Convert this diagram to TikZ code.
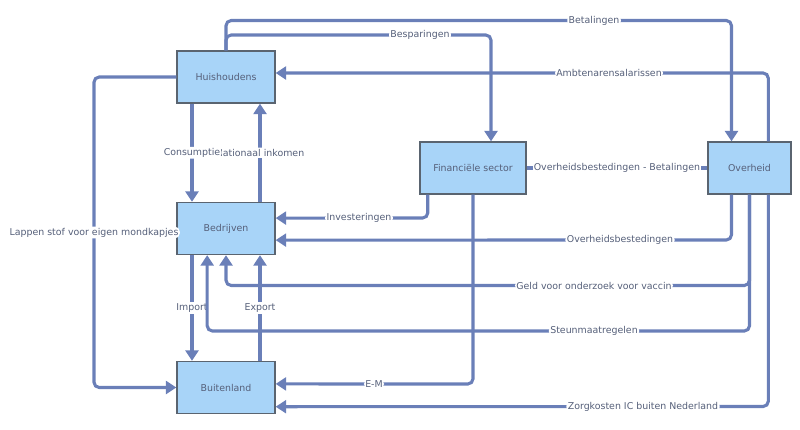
\documentclass[tikz,border=0pt]{standalone}
\usepackage{fontspec}
\setmainfont{DejaVu Sans}
\usetikzlibrary{arrows.meta}
\definecolor{flow}{HTML}{6A7FB8}
\definecolor{boxfill}{HTML}{A8D4F8}
\definecolor{boxline}{HTML}{5A6470}
\definecolor{labtext}{HTML}{56607A}

\begin{document}
\begin{tikzpicture}[x=0.025cm, y=-0.025cm, font=\fontsize{6.7}{8}\selectfont,
  sector/.style={draw=boxline, line width=0.9pt, fill=boxfill, minimum height=1.3cm, text=labtext},
  money/.style={draw=flow, line width=2.2pt, rounded corners=0.13cm, -{Triangle[width=0.32cm,length=0.26cm]}},
  tag/.style={fill=white, text=labtext, inner sep=1pt}]
  \useasboundingbox (0,0) rectangle (800,429);

  \node[sector, minimum width=2.45cm] (H) at (226,77) {Huishoudens};
  \node[sector, minimum width=2.45cm] (B) at (226,228.5) {Bedrijven};
  \node[sector, minimum width=2.45cm] (Bu) at (226,387.5) {Buitenland};
  \node[sector, minimum width=2.65cm] (F) at (473,168) {Financiële sector};
  \node[sector, minimum width=2.08cm] (O) at (749.5,168) {Overheid};

  % huishoudens naar boven
  \draw[money] (H.north) |- (594,20.5) node[tag] {Betalingen} -| ([xshift=-0.45cm]O.north);
  \draw[money] (H.north) |- (420,35) node[tag] {Besparingen} -| ([xshift=0.45cm]F.north);
  \draw[money] ([xshift=0.47cm]O.north) |- (609,73) node[tag] {Ambtenarensalarissen} -- ([yshift=0.1cm]H.east);

  % huishoudens <-> bedrijven
  \draw[money] ([xshift=0.85cm]B.north) -- ([xshift=0.85cm]H.south) node[midway, tag] {Nationaal inkomen};
  \draw[money] ([xshift=-0.85cm]H.south) -- ([xshift=-0.85cm]B.north) node[midway, tag] {Consumptie};

  % bedrijven <-> buitenland
  \draw[money] ([xshift=-0.85cm]B.south) -- ([xshift=-0.85cm]Bu.north) node[midway, tag] {Import};
  \draw[money] ([xshift=0.85cm]Bu.north) -- ([xshift=0.85cm]B.south) node[midway, tag] {Export};

  % financiele sector
  \draw[money] ([xshift=-1.13cm]F.south) |- (359,218) node[tag] {Investeringen} -- ([yshift=0.26cm]B.east);
  \draw[money] (F.south) |- (374,384) node[tag] {E-M} -- ([yshift=0.09cm]Bu.east);
  \draw[draw=flow, line width=2.2pt] (F.east) -- (O.west) node[midway, tag, inner xsep=0.5pt] {Overheidsbestedingen - Betalingen};

  % overheid naar beneden
  \draw[money] ([xshift=-0.45cm]O.south) |- (620,240) node[tag] {Overheidsbestedingen} -- ([yshift=-0.29cm]B.east);
  \draw[money] (O.south) |- (594,285.5) node[tag] {Geld voor onderzoek voor vaccin} -| (B.south);
  \draw[money] (O.south) |- (594,331) node[tag] {Steunmaatregelen} -| ([xshift=-0.47cm]B.south);
  \draw[money] ([xshift=0.47cm]O.south) |- (643,406.5) node[tag] {Zorgkosten IC buiten Nederland} -- ([yshift=-0.48cm]Bu.east);

  % mondkapjes
  \draw[money] (H.west) -| (94,232.5) node[tag] {Lappen stof voor eigen mondkapjes} |- (Bu.west);
\end{tikzpicture}
\end{document}
